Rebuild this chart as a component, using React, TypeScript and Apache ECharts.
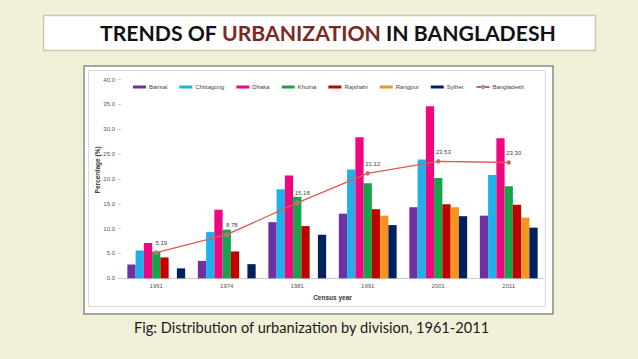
import React, { useEffect, useRef } from "react";
import * as echarts from "echarts";

const years = ["1961", "1974", "1981", "1991", "2001", "2011"];
const barisal = [2.8, 3.5, 11.3, 13.0, 14.3, 12.6];
const chittagong = [5.6, 9.3, 17.9, 21.9, 23.9, 20.8];
const dhaka = [7.1, 13.8, 20.7, 28.4, 34.6, 28.2];
const khulna = [5.4, 9.8, 16.4, 19.1, 20.2, 18.5];
const rajshahi = [4.2, 5.4, 10.5, 13.9, 14.9, 14.8];
const rangpur = [null, null, null, 12.6, 14.3, 12.2];
const sylhet = [2.0, 2.85, 8.76, 10.7, 12.5, 10.2];
const bangladesh = [5.19, 8.78, 15.18, 21.12, 23.53, 23.3];

const divisions = [
  { name: "Barisal", data: barisal, color: "#7030a0" },
  { name: "Chittagong", data: chittagong, color: "#1fb0ea" },
  { name: "Dhaka", data: dhaka, color: "#f00680" },
  { name: "Khulna", data: khulna, color: "#17a34a" },
  { name: "Rajshahi", data: rajshahi, color: "#c00000" },
  { name: "Rangpur", data: rangpur, color: "#f7941d" },
  { name: "Sylhet", data: sylhet, color: "#002060" },
];

export default function App() {
  const ref = useRef<HTMLDivElement>(null);
  useEffect(() => {
    document.body.style.margin = "0";
    const chart = echarts.init(ref.current!, null, { renderer: "svg" });
    const option: any = {
      animation: false,
      backgroundColor: "#f2f0d9",
      textStyle: { fontFamily: "Liberation Sans, Arial, sans-serif" },
      graphic: [
        {
          type: "rect",
          z: -1,
          shape: { x: 43.5, y: 15.5, width: 552, height: 35 },
          style: { fill: "#ffffff", stroke: "#cdca9f", lineWidth: 1.5 },
        },
        {
          type: "text",
          z: -1,
          x: 100,
          y: 33,
          style: {
            text: "{a|TRENDS OF }{b|URBANIZATION}{a| IN BANGLADESH}",
            verticalAlign: "middle",
            rich: {
              a: { fontFamily: "Lato", fontWeight: "bold", fontSize: 21.2, fill: "#111111" },
              b: { fontFamily: "Lato", fontWeight: "bold", fontSize: 21.2, fill: "#7a2a22" },
            },
          },
        },
        {
          type: "rect",
          z: -1,
          shape: { x: 84, y: 66, width: 469, height: 248 },
          style: { fill: "#ffffff", stroke: "#8a8a84", lineWidth: 1.5 },
        },
        {
          type: "rect",
          z: -1,
          shape: { x: 88.5, y: 70.5, width: 457, height: 236 },
          style: { fill: "none", stroke: "#d9d9d9", lineWidth: 1 },
        },
        {
          type: "text",
          z: -1,
          x: 134,
          y: 327,
          style: {
            text: "Fig: Distribution of urbanization by division, 1961-2011",
            verticalAlign: "middle",
            fontFamily: "Lato",
            fontSize: 14.6,
            fill: "#1a1a1a",
          },
        },
      ],
      legend: {
        left: 133,
        top: 84,
        padding: 0,
        itemWidth: 13,
        itemHeight: 3,
        itemGap: 12,
        textStyle: { fontSize: 6, color: "#444", padding: [0, 0, 0, -2] },
        data: [
          ...divisions.map((d) => ({ name: d.name, icon: "rect" })),
          { name: "Bangladesh" },
        ],
      },
      grid: { left: 121, right: 94, top: 79.5, bottom: 80.7 },
      xAxis: {
        type: "category",
        data: years,
        name: "Census year",
        nameLocation: "middle",
        nameGap: 16,
        nameMoveOverlap: false,
        nameTextStyle: { fontSize: 6.5, fontWeight: "bold", color: "#333" },
        axisLine: { lineStyle: { color: "#cccccc" } },
        axisTick: { show: false },
        axisLabel: { fontSize: 6, color: "#555", margin: 5 },
      },
      yAxis: {
        type: "value",
        min: 0,
        max: 40,
        interval: 5,
        name: "Percentage (%)",
        nameLocation: "middle",
        nameGap: 20,
        nameMoveOverlap: false,
        nameTextStyle: { fontSize: 6.5, fontWeight: "bold", color: "#333", padding: [0, 0, 0, 18] },
        axisLine: { show: false },
        axisTick: { show: true, length: 3, lineStyle: { color: "#cccccc" } },
        splitLine: { show: false },
        axisLabel: {
          fontSize: 6,
          color: "#555",
          margin: 6,
          formatter: (v: number) => v.toFixed(1),
        },
      },
      series: [
        ...divisions.map((d) => ({
          name: d.name,
          type: "bar",
          data: d.data,
          barGap: "0%",
          barCategoryGap: "18%",
          itemStyle: { color: d.color },
        })),
        {
          name: "Bangladesh",
          type: "line",
          data: bangladesh,
          z: 5,
          symbol: "circle",
          symbolSize: 4,
          lineStyle: { color: "#dd5a52", width: 1.3 },
          itemStyle: { color: "#dd5a52", borderColor: "#a0a0a0", borderWidth: 0.8 },
          label: {
            show: true,
            position: "top",
            distance: 4,
            offset: [5, 0],
            fontSize: 6,
            color: "#444",
            formatter: (p: any) => p.value.toFixed(2),
          },
        },
      ],
    };
    chart.setOption(option);
    return () => chart.dispose();
  }, []);
  return (
    <div
      ref={ref}
      style={{ position: "absolute", left: 0, top: 0, width: 638, height: 359 }}
    />
  );
}
